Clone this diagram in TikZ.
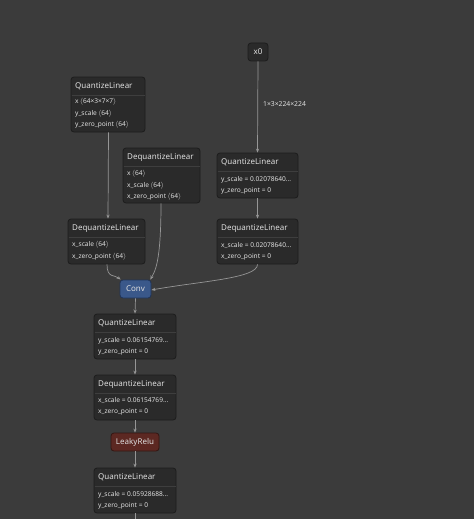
\documentclass[tikz,border=0pt]{standalone}
\usepackage{fontspec}
\setmainfont{Noto Sans}
\usetikzlibrary{arrows.meta}
\definecolor{bgc}{RGB}{59,59,59}
\definecolor{nodefill}{RGB}{42,42,42}
\definecolor{nodeborder}{RGB}{28,28,28}
\definecolor{sepc}{RGB}{62,62,62}
\definecolor{txt}{RGB}{222,222,222}
\definecolor{edgec}{RGB}{150,150,150}
\definecolor{convfill}{RGB}{58,88,138}
\definecolor{convborder}{RGB}{32,52,88}
\definecolor{actfill}{RGB}{92,40,34}
\definecolor{actborder}{RGB}{52,22,18}
\tikzset{
  opbox/.style={draw=nodeborder, fill=nodefill, rounded corners=3pt, inner sep=0pt, line width=0.8pt},
  smallbox/.style={draw=nodeborder, fill=nodefill, rounded corners=3pt, inner sep=0pt, line width=0.8pt, text=txt, font=\fontsize{8}{9}\selectfont},
  convbox/.style={draw=convborder, fill=convfill, rounded corners=3pt, inner sep=0pt, line width=0.8pt, text=txt, font=\fontsize{8}{9}\selectfont},
  actbox/.style={draw=actborder, fill=actfill, rounded corners=3pt, inner sep=0pt, line width=0.8pt, text=txt, font=\fontsize{8}{9}\selectfont},
  optitle/.style={text=txt, font=\fontsize{8}{9}\selectfont, inner sep=0pt, anchor=west},
  attrtext/.style={text=txt, font=\fontsize{6.6}{8}\selectfont, inner sep=0pt, anchor=west},
  sepline/.style={draw=sepc, line width=0.6pt},
  edge/.style={draw=edgec, line width=0.7pt, -{Stealth[length=4pt,width=3.2pt]}},
  elabel/.style={text=txt, font=\fontsize{6.8}{8}\selectfont, inner sep=0pt, anchor=west}
}
\newcommand\opbox[6]{%
  \node[opbox, minimum width={(#4-#2)*1pt}, minimum height={(#5-#3)*1pt}] (#1) at ({(#2+#4)/2},{(#3+#5)/2}) {};
  \node[optitle] at ({#2+4},{#3+9.5}) {#6};
  \draw[sepline] ({#2+0.5},{#3+18}) -- ({#4-0.5},{#3+18});
}
\newcommand\attrline[3]{\node[attrtext] at ({#1},{#2}) {#3};}
\newcommand\ang[1]{\(\langle\)#1\(\rangle\)}
\begin{document}
\begin{tikzpicture}[x=1pt,y=-1pt]
\fill[bgc] (0,0) rectangle (474,519);
\useasboundingbox (0,0) rectangle (474,519);

% top-left QuantizeLinear
\opbox{qla}{71}{77}{145}{132}{QuantizeLinear}
\attrline{75}{102}{\textbf{x}\,\ang{64×3×7×7}}
\attrline{75}{113.5}{\textbf{y\_scale}\,\ang{64}}
\attrline{75}{125}{\textbf{y\_zero\_point}\,\ang{64}}

% middle DequantizeLinear
\opbox{dqb}{123}{148}{200}{203}{DequantizeLinear}
\attrline{127}{174}{\textbf{x}\,\ang{64}}
\attrline{127}{185.5}{\textbf{x\_scale}\,\ang{64}}
\attrline{127}{197}{\textbf{x\_zero\_point}\,\ang{64}}

% left DequantizeLinear
\opbox{dqa}{68}{219}{145}{264}{DequantizeLinear}
\attrline{72}{245}{\textbf{x\_scale}\,\ang{64}}
\attrline{72}{257}{\textbf{x\_zero\_point}\,\ang{64}}

% x0
\node[smallbox, minimum width=20pt, minimum height=18pt] (xin) at (258,52) {x0};

% right QuantizeLinear
\opbox{qlb}{217}{153}{298}{198}{QuantizeLinear}
\attrline{221}{180}{y\_scale = 0.02078640...}
\attrline{221}{191}{y\_zero\_point = 0}

% right DequantizeLinear
\opbox{dqc}{217}{219}{298}{264}{DequantizeLinear}
\attrline{221}{245}{x\_scale = 0.02078640...}
\attrline{221}{257}{x\_zero\_point = 0}

% Conv
\node[convbox, minimum width=31pt, minimum height=18pt] (conv) at (135.5,289) {Conv};

% QuantizeLinear below conv
\opbox{qlc}{94}{314}{176}{359}{QuantizeLinear}
\attrline{98}{341}{y\_scale = 0.06154769...}
\attrline{98}{352}{y\_zero\_point = 0}

% DequantizeLinear
\opbox{dqd}{94}{375}{176}{420}{DequantizeLinear}
\attrline{98}{400.5}{x\_scale = 0.06154769...}
\attrline{98}{411.5}{x\_zero\_point = 0}

% LeakyRelu
\node[actbox, minimum width=48pt, minimum height=18pt] (relu) at (135,442) {LeakyRelu};

% QuantizeLinear bottom
\opbox{qld}{94}{468}{176}{513}{QuantizeLinear}
\attrline{98}{495}{y\_scale = 0.05928688...}
\attrline{98}{506}{y\_zero\_point = 0}

\coordinate (outend) at (135,521);

% edges
\draw[edge] (xin.south) -- node[elabel, pos=0.47, xshift=5pt] {1×3×224×224} (qlb.north);
\draw[edge] (qlb.south) -- (dqc.north);
\draw[edge] ([xshift=0.5pt]qla.south) -- ([xshift=1.5pt]dqa.north);
\draw[edge] ([xshift=0.5pt]dqa.south) .. controls +(0,14) and +(-6,-5) .. ([xshift=1pt]conv.north west);
\draw[edge] ([xshift=-0.5pt]dqb.south) .. controls +(0,62) and +(4,-8) .. ([xshift=-1pt]conv.north east);
\draw[edge] (dqc.south) .. controls +(0,14) and +(50,-9) .. ([yshift=-1pt]conv.east);
\draw[edge] (conv.south) -- (qlc.north);
\draw[edge] (qlc.south) -- (dqd.north);
\draw[edge] (dqd.south) -- (relu.north);
\draw[edge] (relu.south) -- (qld.north);
\draw[draw=edgec, line width=0.7pt] (qld.south) -- (outend);
\end{tikzpicture}
\end{document}
